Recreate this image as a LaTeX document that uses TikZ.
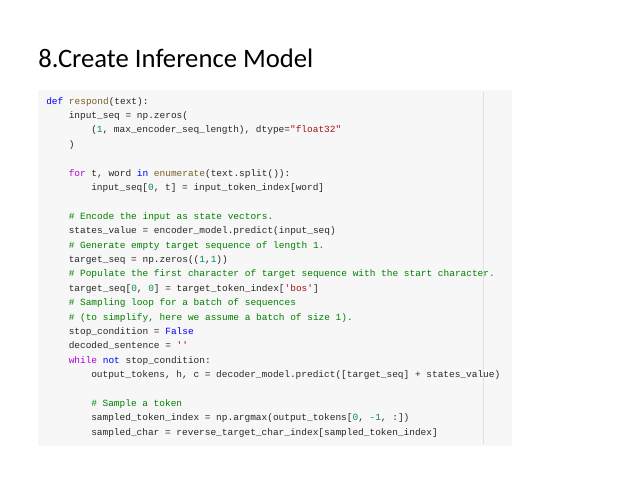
\documentclass[tikz,border=0pt]{standalone}
\usepackage{fontspec}
\setmainfont{Carlito}
\newfontfamily\code{Liberation Mono}
\definecolor{kw}{RGB}{0,0,255}
\definecolor{kp}{RGB}{175,0,219}
\definecolor{fn}{RGB}{121,94,38}
\definecolor{st}{RGB}{163,21,21}
\definecolor{cm}{RGB}{0,128,0}
\definecolor{nm}{RGB}{9,134,88}
\definecolor{tx}{RGB}{40,40,40}
\newcommand\cK[1]{\textcolor{kw}{#1}}
\newcommand\cP[1]{\textcolor{kp}{#1}}
\newcommand\cF[1]{\textcolor{fn}{#1}}
\newcommand\cS[1]{\textcolor{st}{#1}}
\newcommand\cC[1]{\textcolor{cm}{#1}}
\newcommand\cN[1]{\textcolor{nm}{#1}}
\begin{document}
\begin{tikzpicture}[x=0.75pt,y=-0.75pt,
  ln/.style={anchor=base west,inner sep=0pt,font=\code\fontsize{7.1pt}{8pt}\selectfont,text=tx}]
\useasboundingbox (0,0) rectangle (638,478);
\node[anchor=base west,inner sep=0pt,font=\fontsize{20pt}{24pt}\selectfont,text=black] (title) at (38,68) {8.Create Inference Model};
\fill[black!3] (38,90) rectangle (512,446);
\draw[black!12] (483,92) -- (483,444);
\def\dy{14.4}
\foreach \ind/\txt [count=\i from 0] in {
 0/{\cK{def} \cF{respond}(text):},
 1/{input\_seq = np.zeros(},
 2/{(\cN{1}, max\_encoder\_seq\_length), dtype=\cS{"float32"}},
 1/{)},
 0/{},
 1/{\cP{for} t, word \cK{in} \cF{enumerate}(text.split()):},
 2/{input\_seq[\cN{0}, t] = input\_token\_index[word]},
 0/{},
 1/{\cC{\# Encode the input as state vectors.}},
 1/{states\_value = encoder\_model.predict(input\_seq)},
 1/{\cC{\# Generate empty target sequence of length 1.}},
 1/{target\_seq = np.zeros((\cN{1},\cN{1}))},
 1/{\cC{\# Populate the first character of target sequence with the start character.}},
 1/{target\_seq[\cN{0}, \cN{0}] = target\_token\_index[\cS{'bos'}]},
 1/{\cC{\# Sampling loop for a batch of sequences}},
 1/{\cC{\# (to simplify, here we assume a batch of size 1).}},
 1/{stop\_condition = \cK{False}},
 1/{decoded\_sentence = \cS{''}},
 1/{\cP{while} \cK{not} stop\_condition:},
 2/{output\_tokens, h, c = decoder\_model.predict([target\_seq] + states\_value)},
 0/{},
 2/{\cC{\# Sample a token}},
 2/{sampled\_token\_index = np.argmax(output\_tokens[\cN{0}, \cN{-1}, :])},
 2/{sampled\_char = reverse\_target\_char\_index[sampled\_token\_index]}}
 { \node[ln] (l\i) at ({46+22.5*\ind},{104+\dy*\i}) {\strut\txt}; }
\end{tikzpicture}
\end{document}
